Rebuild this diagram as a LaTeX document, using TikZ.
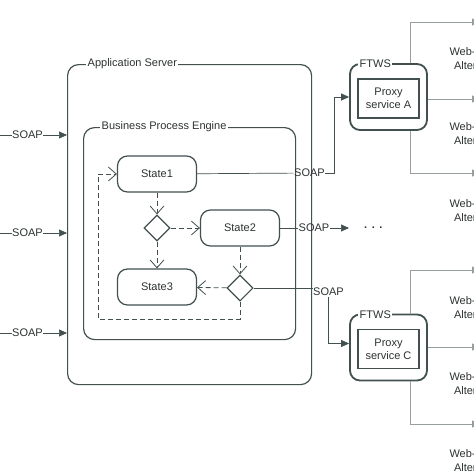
\documentclass[tikz,border=0pt]{standalone}
\usepackage{fontspec}
\setmainfont{Liberation Sans}
\usetikzlibrary{shapes.geometric,arrows.meta,positioning}
\definecolor{linec}{RGB}{66,80,80}
\definecolor{wirec}{RGB}{150,158,158}
\definecolor{txtc}{RGB}{45,50,50}

\begin{document}
\begin{tikzpicture}[%
    x=1pt, y=-1pt,                        % pixel-like grid, y going down
    font=\fontsize{11}{13}\selectfont,
    text=txtc,
    >={Triangle[length=8pt,width=7pt]},   % filled tips for messages
    node distance=54pt and 83pt,          % spacing of the state boxes
    ]
% -------------------------------------------------
% Styles
\tikzset{
  frame/.style={draw=linec, line width=1.2pt, rounded corners=11pt, anchor=north west},
  tag/.style={fill=white, inner sep=1.5pt, anchor=west},
  state/.style={draw=linec, line width=1.2pt, rounded corners=10pt, on grid,
                minimum width=79pt, minimum height=36pt},
  choice/.style={draw=linec, line width=1.1pt, diamond, on grid,
                 minimum size=26pt, inner sep=0pt},
  flow/.style={draw=linec, line width=0.8pt, dash pattern=on 5pt off 3pt,
               -{Straight Barb[length=8pt,width=14pt]}},
  msg/.style={draw=linec, line width=0.7pt},
  soap/.style={inner sep=0.5pt},
  ftws/.style={draw=linec, line width=1.8pt, rounded corners=10pt,
               minimum width=77pt, minimum height=66pt},
  proxy/.style={draw=linec, line width=1.2pt, align=center,
                minimum width=61pt, minimum height=39pt, inner sep=1pt},
  wire/.style={draw=wirec, line width=0.8pt, -{Triangle[length=8pt,width=7pt]}},
  ws/.style={align=center, font=\fontsize{11}{14}\selectfont},
}
\useasboundingbox (0,0) rectangle (474,474);
\clip (0,0) rectangle (474,474);
\fill[white] (0,0) rectangle (474,474);
% -------------------------------------------------
% Containers
\node [frame, minimum width=244pt, minimum height=320pt] (appsrv) at (67,64) {};
\node [tag] at (86,64) {Application Server};
\node [frame, minimum width=212pt, minimum height=212pt] (bpe) at (83,127) {};
\node [tag] at (100,127) {Business Process Engine};

% -------------------------------------------------
% States and choices
\node [state] (s1) at (157,174) {State1};
\node [choice, below=of s1] (d1) {};
\node [state, below=59pt of d1] (s3) {State3};
\node [state, right=of d1] (s2) {State2};
\node [choice, below=60pt of s2] (d2) {};

\draw [flow] (s1) -- (d1);
\draw [flow] (d1) -- (s2);
\draw [flow] (d1) -- (s3);
\draw [flow] (s2) -- (d2);
\draw [flow] (d2) -- (s3);
\coordinate (back) at (98,319);
\draw [flow] (d2.south) |- (back) |- (s1.west);

% -------------------------------------------------
% Incoming SOAP calls
\foreach \y [count=\i] in {135,233,333} {
  \coordinate (src\i) at (0,\y);
  \node [soap] (in\i) at (27.5,\y) {SOAP};
  \draw [msg] (src\i) -- (in\i);
  \draw [msg, ->] (in\i) -- (appsrv.west |- in\i);
}

% -------------------------------------------------
% FTWS proxies
\node [ftws] (ftwsA) at (388.5,97) {};
\node [tag] at (358,64) {FTWS};
\node [proxy] (pxA) at (388.5,98.5) {Proxy\\service A};
\node [ftws] (ftwsC) at (388.5,347.5) {};
\node [tag] at (358,315) {FTWS};
\node [proxy] (pxC) at (388.5,349) {Proxy\\service C};

% Outgoing SOAP calls
\node [soap] (out1) at (309.5,173) {SOAP};
\draw [msg] (s1) -- (out1);
\coordinate (upA) at (334,173);
\draw [msg, ->] (out1) -- (upA) |- (ftwsA.west);

\node [soap] (out2) at (314,228) {SOAP};
\node [inner sep=0pt, anchor=west] (more) at (364,228)
  {\textbf{.\hspace{4.5pt}.\hspace{4.5pt}.}};
\draw [msg] (s2) -- (out2);
\draw [msg, ->, shorten >=15pt] (out2) -- (more.west);

\node [soap] (out3) at (328.5,292) {SOAP};
\draw [msg] (d2.east) -- (d2.east -| out3.west);
\draw [msg, ->] (out3.south) |- ([yshift=4pt]ftwsC.west);

% -------------------------------------------------
% Web service alternatives (cut at the right edge)
\coordinate (wa1) at (480,22);
\coordinate (wa2) at (480,99);
\coordinate (wa3) at (480,173);
\draw [wire] ([xshift=21.5pt]ftwsA.north) |- (wa1);
\draw [wire] (ftwsA.east |- wa2) -- (wa2);
\draw [wire] ([xshift=21.5pt]ftwsA.south) |- (wa3);
\coordinate (wc1) at (480,270);
\coordinate (wc2) at (480,347);
\coordinate (wc3) at (480,424);
\draw [wire] ([xshift=21.5pt]ftwsC.north) |- (wc1);
\draw [wire] (ftwsC.east |- wc2) -- (wc2);
\draw [wire] ([xshift=21.5pt]ftwsC.south) |- (wc3);

\foreach \y [count=\i] in {58.5,133.5,211,308,384,461}
  \node [ws] (ws\i) at (480,\y) {Web-service\\Alternative};

% -------------------------------------------------
\end{tikzpicture}
\end{document}
